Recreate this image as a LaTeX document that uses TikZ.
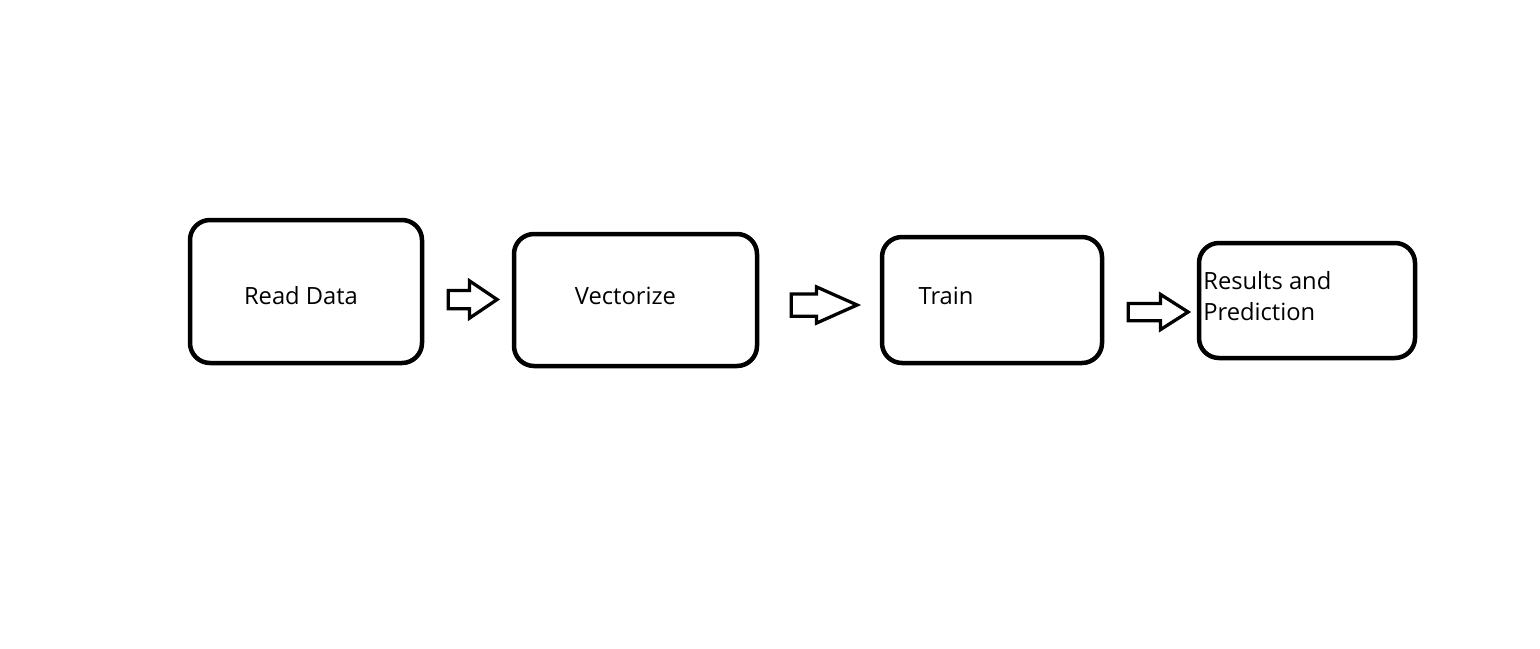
\documentclass[tikz,border=0pt]{standalone}
\usepackage{fontspec}
\setmainfont{Open Sans}
\usetikzlibrary{shapes.arrows}

\tikzset{
	stage/.style={draw, line width=0.09cm, rounded corners=0.4cm, inner sep=0pt},
	word/.style={font=\fontsize{13.5pt}{18pt}\selectfont, inner sep=0pt},
	flow/.style={single arrow, draw, line width=0.065cm, inner xsep=0pt, single arrow head indent=0pt, anchor=tail}
}

\begin{document}
\begin{tikzpicture}
	\useasboundingbox (0,0) rectangle (30.8,-12.96);
	% boxes
	\node[stage, minimum width=4.64cm, minimum height=2.86cm] (read) at (6.12,-5.83) {};
	\node[stage, minimum width=4.86cm, minimum height=2.64cm] (vec) at (12.71,-6.00) {};
	\node[stage, minimum width=4.40cm, minimum height=2.52cm] (train) at (19.84,-6.00) {};
	\node[stage, minimum width=4.32cm, minimum height=2.30cm] (res) at (26.14,-6.01) {};
	% labels
	\node[word] (readlbl) at (6.02,-5.92) {Read Data};
	\node[word] (veclbl) at (12.51,-5.92) {Vectorize};
	\node[word] (trainlbl) at (18.92,-5.92) {Train};
	\node[word, anchor=west, align=left] (reslbl) at (24.06,-5.92) {Results and\\Prediction};
	% arrows
	\node[flow, minimum height=0.98cm, inner ysep=0.15cm, single arrow head extend=0.19cm, single arrow tip angle=68] (a1) at (8.93,-5.99) {};
	\node[flow, minimum height=1.32cm, inner ysep=0.19cm, single arrow head extend=0.14cm, single arrow tip angle=48] (a2) at (15.79,-6.10) {};
	\node[flow, minimum height=1.20cm, inner ysep=0.14cm, single arrow head extend=0.18cm, single arrow tip angle=65] (a3) at (22.53,-6.24) {};
\end{tikzpicture}
\end{document}
